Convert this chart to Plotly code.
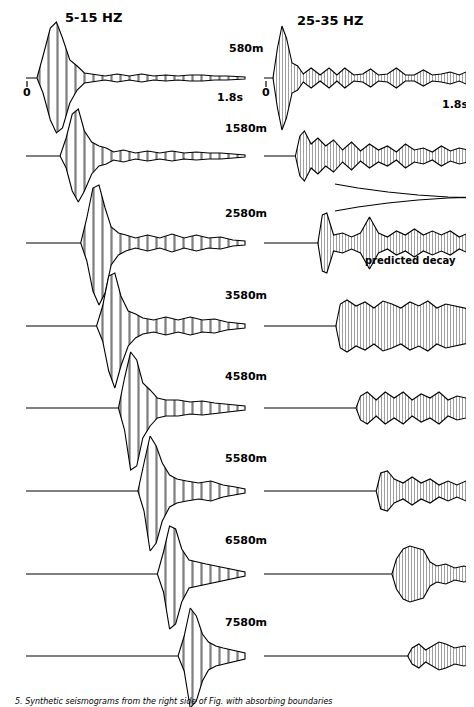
import plotly.graph_objects as go

distances = ["580m", "1580m", "2580m", "3580m", "4580m", "5580m", "6580m", "7580m"]
baselines = [70, 148, 235, 318, 400, 483, 566, 648]

# Left column (5-15 Hz): envelope times (s) and amplitudes (px, up / down)
L_t = [
 [0, .09, .14, .2, .25, .3, .36, .42, .48, .55, .65, .75, .85, .95, 1.05, 1.15, 1.25, 1.35, 1.45, 1.55, 1.65, 1.8],
 [0, .28, .33, .38, .43, .48, .54, .6, .66, .72, .8, .9, 1.0, 1.1, 1.2, 1.3, 1.4, 1.5, 1.6, 1.7, 1.8],
 [0, .45, .5, .55, .6, .65, .7, .76, .82, .9, 1.0, 1.1, 1.2, 1.3, 1.4, 1.5, 1.6, 1.7, 1.8],
 [0, .58, .63, .68, .73, .78, .84, .9, .96, 1.05, 1.15, 1.25, 1.35, 1.45, 1.55, 1.65, 1.8],
 [0, .76, .81, .86, .91, .96, 1.02, 1.08, 1.15, 1.25, 1.35, 1.45, 1.55, 1.65, 1.8],
 [0, .92, .97, 1.02, 1.07, 1.12, 1.18, 1.24, 1.32, 1.42, 1.52, 1.62, 1.72, 1.8],
 [0, 1.08, 1.13, 1.18, 1.23, 1.28, 1.34, 1.4, 1.48, 1.56, 1.64, 1.72, 1.8],
 [0, 1.25, 1.3, 1.35, 1.4, 1.45, 1.5, 1.56, 1.62, 1.7, 1.8],
]
L_up = [
 [0, 0, 22, 50, 56, 40, 18, 12, 5, 4, 2, 4, 2, 4, 2, 3, 2, 3, 3, 2, 2, 1],
 [0, 0, 18, 42, 47, 25, 14, 10, 8, 4, 6, 3, 5, 3, 5, 3, 4, 3, 3, 2, 1],
 [0, 0, 25, 55, 58, 35, 16, 10, 8, 5, 8, 5, 9, 5, 8, 5, 6, 3, 2],
 [0, 0, 20, 50, 53, 30, 15, 12, 8, 6, 9, 6, 9, 6, 7, 4, 2],
 [0, 0, 30, 56, 48, 25, 18, 10, 8, 8, 6, 7, 5, 4, 2],
 [0, 0, 28, 55, 45, 28, 16, 12, 10, 8, 10, 6, 4, 2],
 [0, 0, 22, 48, 45, 25, 14, 12, 10, 8, 6, 4, 2],
 [0, 0, 20, 48, 40, 22, 14, 10, 8, 6, 3],
]
L_dn = [
 [0, 0, 15, 42, 55, 50, 25, 12, 5, 4, 2, 4, 2, 4, 2, 3, 2, 3, 3, 2, 2, 1],
 [0, 0, 12, 35, 46, 35, 18, 10, 8, 4, 6, 3, 5, 3, 5, 3, 4, 3, 3, 2, 1],
 [0, 0, 18, 48, 62, 50, 22, 12, 8, 5, 8, 5, 9, 5, 8, 5, 6, 3, 2],
 [0, 0, 15, 45, 62, 40, 20, 12, 8, 6, 9, 6, 9, 6, 7, 4, 2],
 [0, 0, 22, 62, 58, 30, 18, 10, 8, 8, 6, 7, 5, 4, 2],
 [0, 0, 20, 60, 52, 30, 16, 12, 10, 8, 10, 6, 4, 2],
 [0, 0, 18, 55, 50, 28, 14, 12, 10, 8, 6, 4, 2],
 [0, 0, 15, 52, 45, 25, 14, 10, 8, 6, 3],
]

# Right column (25-35 Hz): envelope times (s) and amplitudes (px)
R_t = [
 [0, .08, .12, .16, .2, .25, .3, .35, .42, .5, .58, .65, .72, .8, .88, .95, 1.02, 1.1, 1.18, 1.26, 1.34, 1.42, 1.5, 1.58, 1.66, 1.74, 1.82, 1.95],
 [0, .28, .32, .36, .42, .48, .55, .62, .7, .78, .86, .94, 1.02, 1.1, 1.18, 1.26, 1.34, 1.42, 1.5, 1.58, 1.66, 1.74, 1.82, 1.95],
 [0, .48, .52, .56, .62, .7, .78, .86, .94, 1.02, 1.1, 1.18, 1.26, 1.34, 1.42, 1.5, 1.58, 1.66, 1.74, 1.82, 1.95],
 [0, .64, .68, .74, .82, .9, .98, 1.06, 1.14, 1.22, 1.3, 1.38, 1.46, 1.54, 1.62, 1.7, 1.78, 1.86, 1.95],
 [0, .82, .86, .92, 1.0, 1.08, 1.16, 1.24, 1.32, 1.4, 1.48, 1.56, 1.64, 1.72, 1.8, 1.88, 1.95],
 [0, 1.0, 1.04, 1.1, 1.16, 1.24, 1.32, 1.4, 1.48, 1.56, 1.64, 1.72, 1.8, 1.88, 1.95],
 [0, 1.14, 1.18, 1.24, 1.3, 1.36, 1.42, 1.48, 1.54, 1.62, 1.7, 1.78, 1.86, 1.95],
 [0, 1.28, 1.32, 1.38, 1.44, 1.5, 1.56, 1.62, 1.7, 1.78, 1.86, 1.95],
]
R_amp = [
 [0, 0, 30, 52, 40, 15, 12, 4, 10, 3, 10, 3, 10, 3, 4, 9, 3, 4, 10, 3, 3, 8, 3, 4, 6, 3, 7, 6],
 [0, 0, 20, 25, 12, 18, 10, 16, 6, 14, 5, 12, 6, 10, 4, 12, 6, 8, 4, 10, 5, 8, 6, 6],
 [0, 0, 28, 30, 8, 10, 6, 10, 26, 10, 6, 12, 8, 14, 8, 12, 8, 12, 6, 10, 8],
 [0, 0, 22, 26, 20, 24, 18, 25, 22, 18, 24, 20, 25, 18, 22, 20, 18, 16, 14],
 [0, 0, 12, 16, 8, 16, 10, 16, 8, 14, 10, 16, 8, 12, 10, 8, 8],
 [0, 0, 18, 20, 12, 8, 14, 8, 12, 6, 10, 6, 10, 8, 6],
 [0, 0, 15, 25, 28, 26, 24, 12, 8, 10, 6, 8, 6, 5],
 [0, 0, 8, 12, 6, 10, 14, 12, 8, 10, 8, 6],
]

LX0, LSC = 18, 219 / 1.8
RX0, RSC = 256, 202 / 1.8

fig = go.Figure()

def add_trace(xs, ups, dns, size):
    fig.add_trace(go.Scatter(
        x=xs + xs[::-1], y=ups + dns[::-1], mode="lines", fill="toself",
        line=dict(color="black", width=1.1), fillcolor="white",
        fillpattern=dict(shape="|", fgcolor="black", bgcolor="white", size=size, solidity=0.25),
        hoverinfo="skip", showlegend=False))

for i, b in enumerate(baselines):
    xs = [LX0 + t * LSC for t in L_t[i]]
    add_trace(xs, [b - a for a in L_up[i]], [b + a for a in L_dn[i]], 9)
    xs = [RX0 + t * RSC for t in R_t[i]]
    add_trace(xs, [b - a for a in R_amp[i]], [b + a for a in R_amp[i]], 3)

# predicted decay curves
dec_x = [327, 350, 380, 410, 440, 474]
dec_up = [176, 180, 184, 187, 189, 190]
dec_dn = [203, 199, 195, 192, 190, 189]
for yy in (dec_up, dec_dn):
    fig.add_trace(go.Scatter(x=dec_x, y=yy, mode="lines", line=dict(color="black", width=1.2),
                             hoverinfo="skip", showlegend=False))

F = "DejaVu Sans"
ann = [
    (85, 9, "<b>5-15 HZ</b>", 13), (322, 12, "<b>25-35 HZ</b>", 13),
    (19, 84, "<b>0</b>", 11), (222, 89, "<b>1.8s</b>", 11),
    (258, 84, "<b>0</b>", 11), (447, 96, "<b>1.8s</b>", 11),
    (402, 252, "<b>predicted decay</b>", 10),
]
for x, y, t, s in ann:
    fig.add_annotation(x=x, y=y, text=t, showarrow=False, font=dict(family=F, size=s, color="black"))
lab_y = [40, 120, 205, 287, 368, 450, 532, 614]
for d, y in zip(distances, lab_y):
    fig.add_annotation(x=238, y=y, text="<b>" + d + "</b>", showarrow=False,
                       font=dict(family=F, size=11, color="black"))
for x, y in ((19, 76), (258, 76)):
    fig.add_shape(type="line", x0=x, x1=x, y0=y - 3, y1=y + 3, line=dict(color="black", width=1.2))
fig.add_annotation(x=5, y=693, xanchor="left", showarrow=False,
                   text="<i>5. Synthetic seismograms from the right side of Fig. with absorbing boundaries</i>",
                   font=dict(family=F, size=8, color="black"))

fig.update_layout(width=474, height=707, margin=dict(l=0, r=0, t=0, b=0),
                  plot_bgcolor="white", paper_bgcolor="white",
                  xaxis=dict(range=[0, 474], visible=False, fixedrange=True),
                  yaxis=dict(range=[707, 0], visible=False, fixedrange=True))
fig.write_html("out.html")
